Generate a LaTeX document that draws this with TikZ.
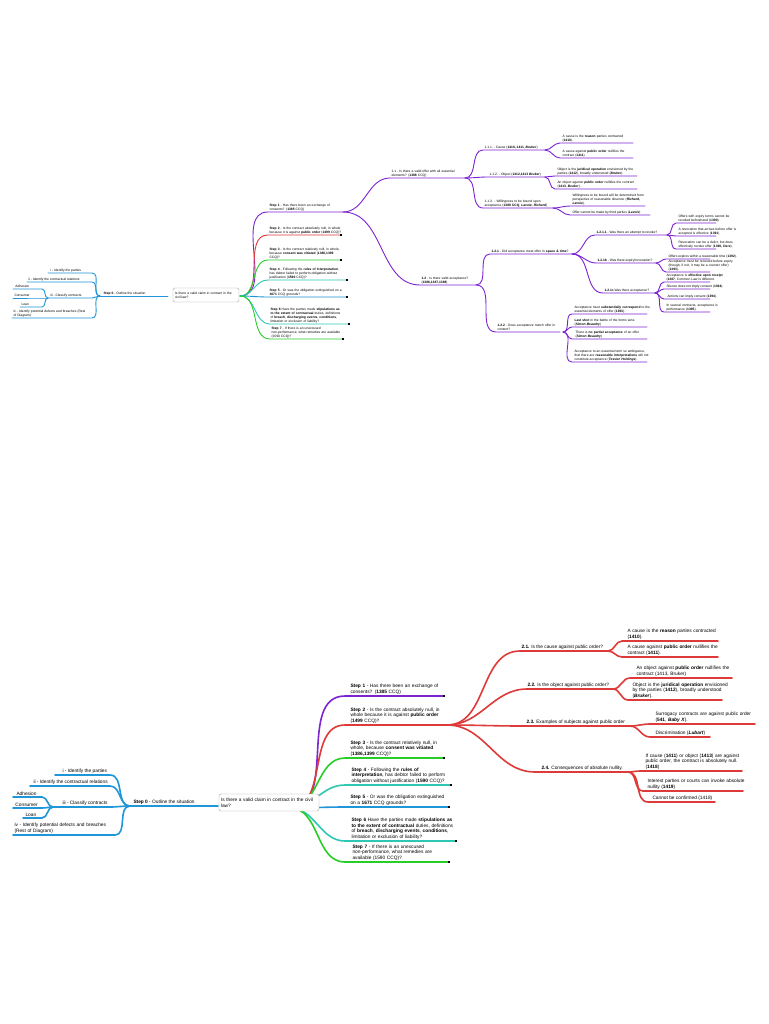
\documentclass[tikz,border=0pt]{standalone}
\usepackage{fontspec}
\setmainfont{Liberation Sans}
\definecolor{cpur}{RGB}{125,35,210}
\definecolor{cred}{RGB}{222,58,58}
\definecolor{cgrn}{RGB}{40,205,40}
\definecolor{ctea}{RGB}{45,200,180}
\definecolor{cblu}{RGB}{30,150,215}
\newcommand\brR[4]{\draw[#1] (#2) to[out=0,in=180] (#3) -- ++(#4,0);}
\newcommand\brL[4]{\draw[#1] (#2) to[out=180,in=0] (#3) -- ++(-#4,0);}
\newcommand\mk[1]{\fill (#1) ++(0,-1.2) rectangle ++(2.2,2.4);}
\begin{document}
\begin{tikzpicture}[x=1pt,y=-1pt,
 every node/.style={execute at begin node={\hyphenpenalty=10000\exhyphenpenalty=10000}},
 T/.style={font=\fontsize{3.3}{4}\selectfont,anchor=south west,inner sep=0.3pt,align=left},
 B/.style={font=\fontsize{4.8}{5.7}\selectfont,anchor=south west,inner sep=0.3pt,align=left},
 t/.style={line width=0.9pt,line cap=round},
 b/.style={line width=1.6pt,line cap=round},
 box/.style={draw=gray!70,rounded corners=2pt,fill=white,inner sep=2pt,align=left,text width=#1}]
\useasboundingbox[fill=white] (0,0) rectangle (768,1024);
% ================= TOP PANEL =================
\draw[t,cblu] (168,296) -- (100,296);
\node[T] (s0) at (103,295.5) {\textbf{Step 0} - Outline the situation};
\brL{t,cblu}{100,296}{92,273}{44}
\node[T] (i) at (50,272.5) {i - Identify the parties};
\brL{t,cblu}{100,296}{92,282}{65}
\node[T] (ii) at (28,281.5) {ii - Identify the contractual relations};
\brL{t,cblu}{100,296}{92,298}{44}
\node[T] (iii) at (50,297.5) {iii - Classify contracts};
\brL{t,cblu}{48,298}{42,289}{29}
\node[T] at (15,288.5) {Adhesion};
\brL{t,cblu}{48,298}{42,298}{29}
\node[T] at (14,297.5) {Consumer};
\brL{t,cblu}{48,298}{42,307}{22}
\node[T] at (21,306.5) {Loan};
\brL{t,cblu}{100,296}{92,318}{80}
\node[T,text width=75pt] (iv) at (13,317.5) {iv - Identify potential defects and breaches (Rest of Diagram)};
% steps
\brR{t,cpur}{240,296}{268,212}{75}
\node[T,text width=74pt] at (269,211.5) {\textbf{Step 1} - Has there been an exchange of consents? (\textbf{1385} CCQ)};
\brR{t,cred}{240,296}{268,235}{72}\mk{340,235}
\node[T,text width=74pt] at (269,234.5) {\textbf{Step 2} - Is the contract absolutely null, in whole because it is against \textbf{public order} (\textbf{1499} CCQ)?};
\brR{t,cgrn}{240,296}{268,260}{72}\mk{340,260}
\node[T,text width=74pt] at (269,259.5) {\textbf{Step 3} - Is the contract relatively null, in whole, because \textbf{consent was vitiated} (\textbf{1386,1399} CCQ)?};
\brR{t,ctea}{240,296}{268,280}{78}\mk{346,280}
\node[T,text width=76pt] at (269,279.5) {\textbf{Step 4} - Following the \textbf{rules of interpretation}, has debtor failed to perform obligation without justification (\textbf{1590} CCQ)?};
\brR{t,cblu}{240,296}{268,297}{78}\mk{346,297}
\node[T,text width=74pt] at (269,296.5) {\textbf{Step 5} - Or was the obligation extinguished on a \textbf{1671} CCQ grounds?};
\brR{t,ctea}{240,296}{270,324}{78}\mk{348,324}
\node[T,text width=76pt] at (270,323.5) {\textbf{Step 6} Have the parties made \textbf{stipulations as to the extent of contractual} duties, definitions of \textbf{breach}, \textbf{discharging events}, \textbf{conditions}, limitation or exclusion of liability?};
\brR{t,cgrn}{240,296}{270,339}{72}\mk{342,339}
\node[T,text width=72pt] at (271,338.5) {\textbf{Step 7} - If there is an unexcused non-performance, what remedies are available (1590 CCQ)?};
\node[box=62pt,font=\fontsize{3.3}{4}\selectfont,minimum height=14pt] (c1) at (206,295) {Is there a valid claim in contract in the civil law?};
% purple 1.1
\brR{t,cpur}{343,212}{390,178}{75}
\node[T,text width=72pt] at (391,177.5) {1.1 - Is there a valid offer with all essential elements? (\textbf{1388} CCQ)};
\brR{t,cpur}{465,178}{483,150}{62}
\node[T] at (484,149.5) {1.1.1. - Cause (\textbf{1410, 1411}, \textbf{\textit{Bruker}})};
\brR{t,cpur}{545,150}{560,143}{73}
\node[T,text width=72pt] at (562,142.5) {A cause is the \textbf{reason} parties contracted (\textbf{1410}).};
\brR{t,cpur}{545,150}{560,158}{73}
\node[T,text width=72pt] at (562,157.5) {A cause against \textbf{public order} nullifies the contract (\textbf{1411}).};
\brR{t,cpur}{465,178}{488,177}{57}
\node[T] at (489,176.5) {1.1.2. - Object (\textbf{1412,1413 \textit{Bruker}})};
\brR{t,cpur}{545,177}{555,176}{82}
\node[T,text width=78pt] at (557,175.5) {Object is the \textbf{juridical operation} envisioned by the parties (\textbf{1412}), broadly understood (\textbf{\textit{Bruker}}).};
\brR{t,cpur}{545,177}{555,189}{82}
\node[T,text width=78pt] at (557,188.5) {An object against \textbf{public order} nullifies the contract (\textbf{1413}, \textbf{\textit{Bruker}}).};
\brR{t,cpur}{465,178}{483,208}{70}
\node[T,text width=70pt] at (484,207.5) {1.1.3. - Willingness to be bound upon acceptance (\textbf{1388 CCQ}, \textbf{\textit{Lavoie, Richard}})};
\brR{t,cpur}{553,208}{570,206}{75}
\node[T,text width=74pt] at (572,205.5) {Willingness to be bound will be determined from perspective of reasonable observer (\textbf{\textit{Richard, Lavoie}}).};
\brR{t,cpur}{553,208}{570,215}{80}
\node[T] at (572,214.5) {Offer cannot be made by third parties (\textbf{\textit{Lavoie}})};
% purple 1.2
\brR{t,cpur}{343,212}{420,285}{56}
\node[T,text width=55pt] at (421,284.5) {\textbf{1.2} - Is there valid acceptance? (\textbf{1386,1387,1388})};
\brR{t,cpur}{476,285}{490,254}{82}
\node[T,text width=78pt] at (491,253.5) {\textbf{1.2.1} - Did acceptance meet offer in \textbf{space \& time}?};
\brR{t,cpur}{572,254}{595,235}{72}
\node[T] at (596,234.5) {\textbf{1.2.1.1} - Was there an attempt to revoke?};
\brR{t,cpur}{667,235}{676,223}{40}
\node[T,text width=62pt] at (678,222.5) {Offers with expiry terms cannot be revoked beforehand (\textbf{1390}).};
\brR{t,cpur}{667,235}{676,236}{40}
\node[T,text width=64pt] at (678,235.5) {A revocation that arrives before offer is accepted is effective (\textbf{1391})};
\brR{t,cpur}{667,235}{676,249}{40}
\node[T,text width=64pt] at (678,248.5) {Revocation can be a delict, but does effectively revoke offer (\textbf{1390, Dere}).};
\brR{t,cpur}{572,254}{596,263}{60}
\node[T] at (597,262.5) {\textbf{1.2.1b} - Was there expiry/revocation?};
\brR{t,cpur}{656,263}{666,259}{44}
\node[T] at (668,258.5) {Offers expires within a reasonable time (\textbf{1392}).};
\brR{t,cpur}{656,263}{666,272}{44}
\node[T,text width=66pt] at (668,271.5) {Acceptance must be received before expiry (though, if not, it may be a counter offer) (\textbf{1393}).};
\brR{t,cpur}{572,254}{603,293}{52}
\node[T] at (604,292.5) {\textbf{1.2.1c} Was there acceptance?};
\brR{t,cpur}{655,293}{664,282}{46}
\node[T,text width=66pt] at (666,281.5) {Acceptance is \textbf{effective upon receipt} (\textbf{1387}, Common Law is different.};
\brR{t,cpur}{655,293}{664,289}{46}
\node[T] at (666,288.5) {Silence does not imply consent (\textbf{1394}).};
\brR{t,cpur}{655,293}{664,299}{46}
\node[T] at (667,298.5) {Actions can imply consent (\textbf{1394}).};
\brR{t,cpur}{655,293}{664,312}{46}
\node[T,text width=60pt] at (666,311.5) {In several contracts, acceptance is performance (\textbf{1395}).};
\brR{t,cpur}{476,285}{496,332}{64}
\node[T,text width=64pt] at (497,331.5) {\textbf{1.2.2} - Does acceptance match offer in content?};
\brR{t,cpur}{563,332}{572,314}{75}
\node[T,text width=76pt] at (574,313.5) {Acceptance must \textbf{substantially correspond} to the essential elements of offer (\textbf{1393}).};
\brR{t,cpur}{563,332}{572,327}{75}
\node[T,text width=72pt] at (574,326.5) {\textbf{Last shot} in the battle of the forms wins (\textbf{\textit{Simon-Beaudry}})};
\brR{t,cpur}{563,332}{572,339}{75}
\node[T,text width=74pt] at (575,338.5) {There is \textbf{no partial acceptance} of an offer (\textbf{\textit{Simon Beaudry}})};
\brR{t,cpur}{563,332}{572,362}{75}
\node[T,text width=76pt] at (574,361.5) {Acceptance to an essential term so ambiguous, that there are \textbf{reasonable interpretations} will not constitute acceptance (\textbf{\textit{Tessier Holdings}}).};
% ================= BOTTOM PANEL =================
\draw[b,cblu] (218,806) -- (130,806);
\node[B] (bs0) at (133,805) {\textbf{Step 0} - Outline the situation};
\brL{b,cblu}{130,806}{110,775}{55}
\node[B] at (62,774) {i - Identify the parties};
\brL{b,cblu}{130,806}{110,786}{80}
\node[B] at (33,785) {ii - Identify the contractual relations};
\brL{b,cblu}{130,806}{110,807}{57}
\node[B] at (62,806) {iii - Classify contracts};
\brL{b,cblu}{53,807}{42,797}{29}
\node[B] at (16,796) {Adhesion};
\brL{b,cblu}{53,807}{42,808}{29}
\node[B] at (15,807) {Consumer};
\brL{b,cblu}{53,807}{42,818}{19}
\node[B] at (25,817) {Loan};
\brL{b,cblu}{130,806}{115,835}{102}
\node[B,text width=100pt] at (14,834) {iv - Identify potential defects and breaches (Rest of Diagram)};
% steps
\brR{b,cpur}{290,808}{345,696}{98}\mk{443,696}
\node[B,text width=95pt] at (350,695) {\textbf{Step 1} - Has there been an exchange of consents? (\textbf{1385} CCQ)};
\brR{b,cred}{290,808}{345,725}{102}
\node[B,text width=97pt] at (350,724) {\textbf{Step 2} - Is the contract absolutely null, in whole because it is against \textbf{public order} (\textbf{1499} CCQ)?};
\brR{b,cgrn}{290,808}{345,758}{98}\mk{443,758}
\node[B,text width=95pt] at (350,757) {\textbf{Step 3} - Is the contract relatively null, in whole, because \textbf{consent was vitiated} (\textbf{1386,1399} CCQ)?};
\brR{b,ctea}{290,808}{345,785}{105}\mk{450,785}
\node[B,text width=98pt] at (351,784) {\textbf{Step 4} - Following the \textbf{rules of interpretation}, has debtor failed to perform obligation without justification (\textbf{1590} CCQ)?};
\brR{b,cblu}{290,808}{345,807}{103}\mk{448,807}
\node[B,text width=96pt] at (350,806) {\textbf{Step 5} - Or was the obligation extinguished on a \textbf{1671} CCQ grounds?};
\brR{b,ctea}{290,808}{345,841}{110}\mk{455,841}
\node[B,text width=102pt] at (351,840) {\textbf{Step 6} Have the parties made \textbf{stipulations as to the extent of contractual} duties, definitions of \textbf{breach}, \textbf{discharging events}, \textbf{conditions}, limitation or exclusion of liability?};
\brR{b,cgrn}{290,808}{345,862}{103}\mk{448,862}
\node[B,text width=96pt] at (352,861) {\textbf{Step 7} - If there is an unexcused non-performance, what remedies are available (1590 CCQ)?};
\node[box=96pt,font=\fontsize{4.8}{5.7}\selectfont,minimum height=17pt] (c2) at (269,802.5) {Is there a valid claim in contract in the civil law?};
% red branches
\brR{b,cred}{447,725}{520,651}{88}
\node[B] at (521,650) {\textbf{2.1.} Is the cause against public order?};
\brR{b,cred}{608,651}{622,641}{96}
\node[B,text width=95pt] at (627,640) {A cause is the \textbf{reason} parties contracted (\textbf{1410}).};
\brR{b,cred}{608,651}{622,657}{96}
\node[B,text width=95pt] at (627,656) {A cause against \textbf{public order} nullifies the contract (\textbf{1411}).};
\brR{b,cred}{447,725}{527,689}{86}
\node[B] at (527,688) {\textbf{2.2.} Is the object against public order?};
\brR{b,cred}{613,689}{630,678}{102}
\node[B,text width=98pt] at (636,677) {An object against \textbf{public order} nullifies the contract (1413, Bruker)};
\brR{b,cred}{613,689}{628,700}{94}
\node[B,text width=96pt] at (632,699) {Object is the \textbf{juridical operation} envisioned by the parties (\textbf{1412}), broadly understood (\textbf{\textit{Bruker}}).};
\brR{b,cred}{447,725}{522,726}{108}
\node[B] at (526,725) {\textbf{2.3.} Examples of subjects against public order};
\brR{b,cred}{630,726}{650,724}{105}
\node[B,text width=100pt] at (655,723) {Surrogacy contracts are against public order (\textbf{541}, \textbf{\textit{Baby X}}).};
\brR{b,cred}{630,726}{650,737}{60}
\node[B] at (655,736) {Discrimination (\textbf{\textit{Lubart}})};
\brR{b,cred}{447,725}{535,772}{93}
\node[B] at (541,771) {\textbf{2.4.} Consequences of absolute nullity.};
\brR{b,cred}{628,772}{640,771}{102}
\node[B,text width=98pt] at (645,770) {If cause (\textbf{1411}) or object (\textbf{1413}) are against public order, the contract is absolutely null. (\textbf{1418})};
\brR{b,cred}{628,772}{643,791}{100}
\node[B,text width=98pt] at (647,790) {Interest parties or courts can invoke absolute nullity (\textbf{1419})};
\brR{b,cred}{628,772}{648,802}{67}
\node[B] at (652,801) {Cannot be confirmed (1418)};
\end{tikzpicture}
\end{document}
